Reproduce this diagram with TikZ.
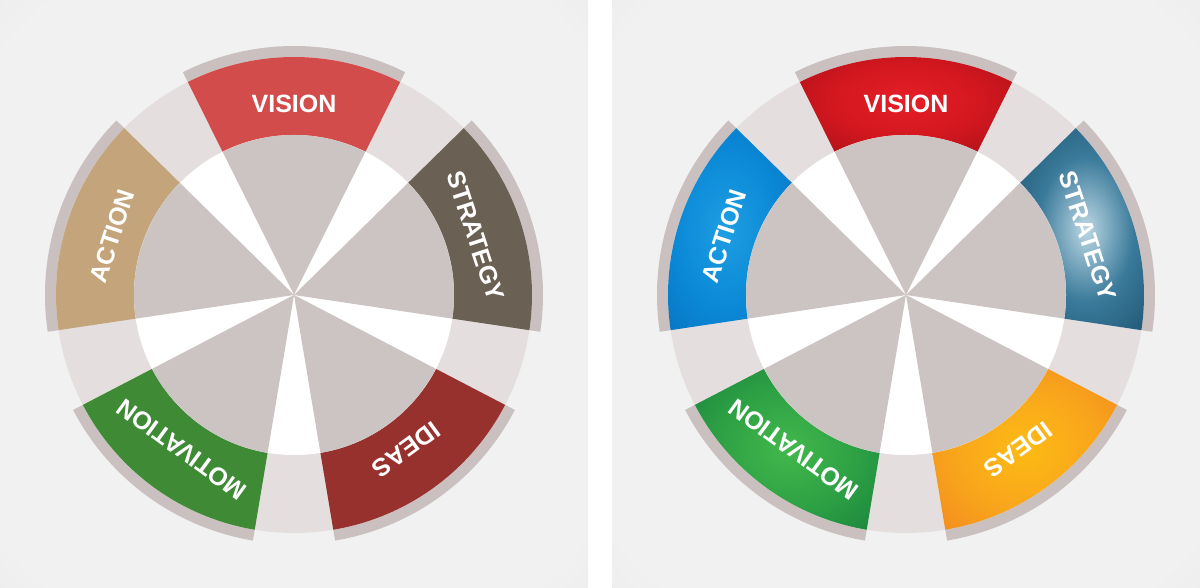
\documentclass[tikz,border=0pt]{standalone}
\usepackage{fontspec}
\setmainfont{Liberation Sans}
\definecolor{bglight}{HTML}{F1F1F1}
\definecolor{bgdark}{HTML}{E2E2E4}
\definecolor{ringlight}{HTML}{E4DFDE}
\definecolor{shadowgray}{HTML}{C9C0BF}
\definecolor{innergray}{HTML}{CCC4C3}
\definecolor{visionL}{HTML}{D24C4B}
\definecolor{actionL}{HTML}{C4A57B}
\definecolor{strategyL}{HTML}{6A6053}
\definecolor{ideasL}{HTML}{97312D}
\definecolor{motivL}{HTML}{3E8A35}
\definecolor{visA}{HTML}{E61E27}
\definecolor{visB}{HTML}{D2171F}
\definecolor{visC}{HTML}{8E0B13}
\definecolor{actA}{HTML}{1E9EE2}
\definecolor{actB}{HTML}{0A88D6}
\definecolor{actC}{HTML}{0861A8}
\definecolor{strA}{HTML}{BCD7E4}
\definecolor{strB}{HTML}{3A7A9A}
\definecolor{strC}{HTML}{0E3E5C}
\definecolor{ideA}{HTML}{FDBB14}
\definecolor{ideB}{HTML}{F8A41C}
\definecolor{ideC}{HTML}{EE7423}
\definecolor{motA}{HTML}{42B84B}
\definecolor{motB}{HTML}{2C9F44}
\definecolor{motC}{HTML}{0B6C36}
\pgfdeclareradialshading{bgshade}{\pgfpoint{0bp}{0bp}}{color(0bp)=(bglight); color(32bp)=(bglight); color(50bp)=(bgdark); color(80bp)=(bgdark)}
\pgfdeclareradialshading{visshade}{\pgfpoint{0bp}{0bp}}{color(0bp)=(visA); color(18bp)=(visB); color(48bp)=(visC); color(80bp)=(visC)}
\pgfdeclareradialshading{actshade}{\pgfpoint{0bp}{0bp}}{color(0bp)=(actA); color(20bp)=(actB); color(50bp)=(actC); color(80bp)=(actC)}
\pgfdeclareradialshading{strshade}{\pgfpoint{0bp}{0bp}}{color(0bp)=(strA); color(18bp)=(strB); color(46bp)=(strC); color(80bp)=(strC)}
\pgfdeclareradialshading{ideshade}{\pgfpoint{0bp}{0bp}}{color(0bp)=(ideA); color(20bp)=(ideB); color(50bp)=(ideC); color(80bp)=(ideC)}
\pgfdeclareradialshading{motshade}{\pgfpoint{0bp}{0bp}}{color(0bp)=(motA); color(20bp)=(motB); color(50bp)=(motC); color(80bp)=(motC)}
\newcommand{\segpath}[4]{(#1:#3) arc[start angle=#1, end angle=#2, radius=#3] -- (#2:#4) arc[start angle=#2, end angle=#1, radius=#4] -- cycle}
\tikzset{
  lbl/.style={text=white, inner sep=0pt, anchor=center, font=\fontsize{25pt}{25pt}\selectfont\bfseries},
}
\newcommand{\wheel}[7]{%
\begin{scope}[shift={(#1,293pt)}]
  \foreach \c in {90,18,-54,-126,162}
    \fill[shadowgray] \segpath{\c-26.5}{\c+26.5}{220pt}{249pt};
  \fill[ringlight] (0,0) circle[radius=238pt];
  \path[#3] \segpath{63.5}{116.5}{159pt}{238pt};
  \path[#4] \segpath{-8.5}{44.5}{159pt}{238pt};
  \path[#5] \segpath{-80.5}{-27.5}{159pt}{238pt};
  \path[#6] \segpath{-152.5}{-99.5}{159pt}{238pt};
  \path[#7] \segpath{135.5}{188.5}{159pt}{238pt};
  \fill[white] (0,0) circle[radius=160pt];
  \foreach \c in {90,18,-54,-126,162}
    \fill[innergray] (0,0) -- (\c-26.5:160pt) arc[start angle=\c-26.5, end angle=\c+26.5, radius=160pt] -- cycle;
  \node[lbl] (#2vision) at (90:191pt) {VISION};
  \node[lbl, rotate=-72] (#2strategy) at (18:191pt) {STRATEGY};
  \node[lbl, rotate=216] (#2ideas) at (-54:191pt) {IDEAS};
  \node[lbl, rotate=144] (#2motivation) at (-126:191pt) {MOTIVATION};
  \node[lbl, rotate=72] (#2action) at (162:191pt) {ACTION};
\end{scope}}
\begin{document}
\begin{tikzpicture}
\useasboundingbox (0,0) rectangle (1200pt,588pt);
\fill[white] (0,0) rectangle (1200pt,588pt);
\shade[shading=bgshade] (0,0) rectangle (588pt,588pt);
\shade[shading=bgshade] (612pt,0) rectangle (1200pt,588pt);
\wheel{294pt}{L}{fill=visionL}{fill=strategyL}{fill=ideasL}{fill=motivL}{fill=actionL}
\wheel{906pt}{R}{shade,shading=visshade}{shade,shading=strshade}{shade,shading=ideshade}{shade,shading=motshade}{shade,shading=actshade}
\end{tikzpicture}
\end{document}
